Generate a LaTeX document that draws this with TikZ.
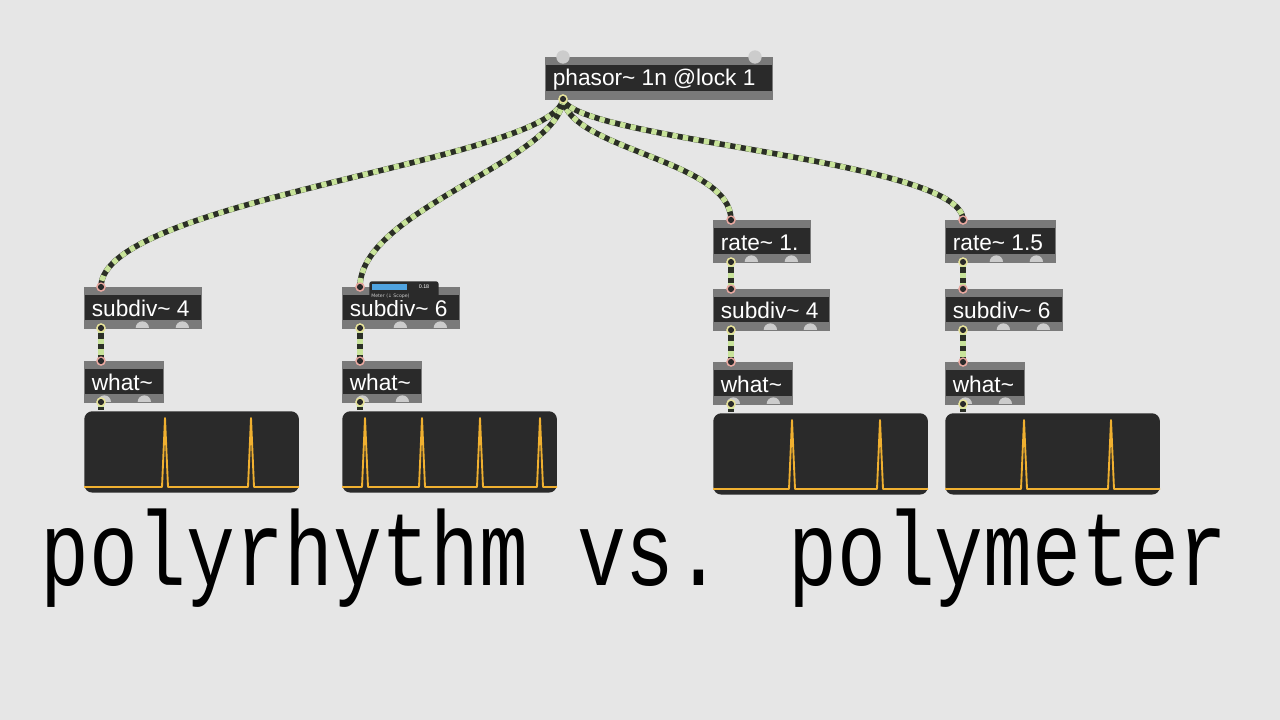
\documentclass[tikz,border=0pt]{standalone}
\usepackage{fontspec}
\setmainfont{Liberation Sans}
\newfontfamily\dejavu{DejaVu Sans}
\newfontfamily\bigmono{Liberation Mono}
\usetikzlibrary{fit,calc}
\definecolor{bg}{HTML}{E6E6E6}
\definecolor{objdark}{HTML}{2A2A2A}
\definecolor{strip}{HTML}{7A7A7A}
\definecolor{cablegreen}{HTML}{C8E39A}
\definecolor{cabledark}{HTML}{2B2F26}
\definecolor{inletpink}{HTML}{E8A8A0}
\definecolor{outyellow}{HTML}{E6E29A}
\definecolor{scopeline}{HTML}{F0B030}
\definecolor{meterblue}{HTML}{4FA3E0}
\tikzset{
  x=0.75pt,y=-0.75pt,
  obj/.style={inner sep=0pt,fill=objdark,draw=strip,line width=0.6pt,
    path picture={
      \fill[strip] (path picture bounding box.north west) rectangle ([yshift=-6pt]path picture bounding box.north east);
      \fill[strip] (path picture bounding box.south west) rectangle ([yshift=6pt]path picture bounding box.south east);
      \fill[gray!40] ([xshift=-14pt]path picture bounding box.south east) circle (5pt);
      \fill[gray!40] ([xshift=-44pt]path picture bounding box.south east) circle (5pt);
    }},
  phobj/.style={inner sep=0pt,fill=objdark,draw=strip,line width=0.6pt,
    path picture={
      \fill[strip] (path picture bounding box.north west) rectangle ([yshift=-6pt]path picture bounding box.north east);
      \fill[strip] (path picture bounding box.south west) rectangle ([yshift=6pt]path picture bounding box.south east);
    }},
  objtxt/.style={text=white,font=\fontsize{17}{17}\selectfont,inner sep=0pt,anchor=west},
  inlet/.style={fill=inletpink,circle,inner sep=0pt,minimum size=7pt,path picture={\fill[objdark] (path picture bounding box.center) circle (2.3pt);}},
  outlet/.style={fill=outyellow,circle,inner sep=0pt,minimum size=7pt,path picture={\fill[objdark] (path picture bounding box.center) circle (2.3pt);}},
  cable/.style={line width=4pt,draw=cablegreen,dash pattern=on 4pt off 4pt,
    preaction={draw=cabledark,line width=4.2pt,solid}},
  scopebox/.style={fill=objdark,rounded corners=6pt,inner sep=0pt},
  spike/.style={draw=scopeline,line width=1.4pt,line join=round},
}
\newcommand{\maxobj}[7][obj]{% name x1 y1 x2 y2 text
  \node[#1,fit={(#3,#4)(#5,#6)}] (#2) {};
  \node[objtxt] (#2t) at ([xshift=6pt,yshift=-1pt]#2.west) {#7};
}
\begin{document}
\begin{tikzpicture}
\fill[bg] (0,0) rectangle (1280,720);
\useasboundingbox (0,0) rectangle (1280,720);

% objects
\maxobj[phobj]{ph}{545}{57}{772}{99}{phasor\textasciitilde{} 1n @lock 1}
\maxobj{sa}{84}{287}{201}{328}{subdiv\textasciitilde{} 4}
\maxobj{wa}{84}{361}{163}{402}{what\textasciitilde}
\maxobj{sb}{342}{287}{459}{328}{subdiv\textasciitilde{} 6}
\maxobj{wb}{342}{361}{421}{402}{what\textasciitilde}
\maxobj{rc}{713}{220}{810}{262}{rate\textasciitilde{} 1.}
\maxobj{sc}{713}{289}{829}{330}{subdiv\textasciitilde{} 4}
\maxobj{wc}{713}{362}{792}{404}{what\textasciitilde}
\maxobj{rd}{945}{220}{1055}{262}{rate\textasciitilde{} 1.5}
\maxobj{sd}{945}{289}{1062}{330}{subdiv\textasciitilde{} 6}
\maxobj{wd}{945}{362}{1024}{404}{what\textasciitilde}

% inlets / outlets
\node[outlet] (pho) at (563,99) {};
\foreach \n/\x/\yi/\yo in {sa/101/287/328, wa/101/361/402, sb/360/287/328, wb/360/361/402,
  rc/731/220/262, sc/731/289/330, wc/731/362/404, rd/963/220/262, sd/963/289/330, wd/963/362/404}{
  \node[inlet] (\n i) at (\x,\yi) {};
  \node[outlet] (\n o) at (\x,\yo) {};
}
\fill[gray!40] (563,57) circle (5pt);
\fill[gray!40] (755,57) circle (5pt);

% scopes
\foreach \n/\x/\y in {ka/84/411, kb/342/411, kc/713/413, kd/945/413}{
  \node[scopebox,minimum width=161pt,minimum height=61pt,anchor=north west] (\n) at (\x,\y) {};
}
\draw[spike] (84,487) -- (162,487) -- (165,418) -- (168,487) -- (248,487) -- (251,418) -- (254,487) -- (299,487);
\draw[spike] (342,487) -- (362,487) -- (365,418) -- (368,487) -- (419,487) -- (422,418) -- (425,487) -- (477,487) -- (480,418) -- (483,487) -- (537,487) -- (540,418) -- (543,487) -- (557,487);
\draw[spike] (713,489) -- (789,489) -- (792,420) -- (795,489) -- (877,489) -- (880,420) -- (883,489) -- (928,489);
\draw[spike] (945,489) -- (1021,489) -- (1024,420) -- (1027,489) -- (1108,489) -- (1111,420) -- (1114,489) -- (1160,489);

% cables
\draw[cable] (pho.center) .. controls (555,160) and (101,200) .. (sai.center);
\draw[cable] (pho.center) .. controls (560,160) and (360,210) .. (sbi.center);
\draw[cable] (pho.center) .. controls (570,150) and (731,160) .. (rci.center);
\draw[cable] (pho.center) .. controls (575,140) and (963,160) .. (rdi.center);
\foreach \a/\b in {sa/wa, sb/wb, rc/sc, sc/wc, rd/sd, sd/wd}{
  \draw[cable] (\a o.center) -- (\b i.center);
}
\foreach \n in {wa, wb, wc, wd}{ \draw[cable] (\n o.center) -- ++(0,8); }
% redraw ports over cables
\node[outlet] at (pho) {};
\foreach \n in {sa,wa,sb,wb,rc,sc,wc,rd,sd,wd}{
  \node[inlet] at (\n i) {};
  \node[outlet] at (\n o) {};
}

% meter tooltip
\node[fill=objdark,rounded corners=2pt,minimum width=52pt,minimum height=14pt,anchor=north west,inner sep=0pt] (meter) at (369,281) {};
\fill[meterblue] (372,284) rectangle (407,290);
\node[text=white,font=\fontsize{4}{4}\selectfont,inner sep=0pt] (mv) at (424,287) {0.18};
\node[text=white!80!black,font=\dejavu\fontsize{3.5}{4}\selectfont,inner sep=0pt,anchor=west] (ml) at (371,296) {Meter (↓ Scope)};

% title
\node[font=\bigmono\fontsize{61}{61}\selectfont,inner sep=0pt,anchor=base west,yscale=1.3] (title) at (40,585) {polyrhythm vs. polymeter};
\end{tikzpicture}
\end{document}
